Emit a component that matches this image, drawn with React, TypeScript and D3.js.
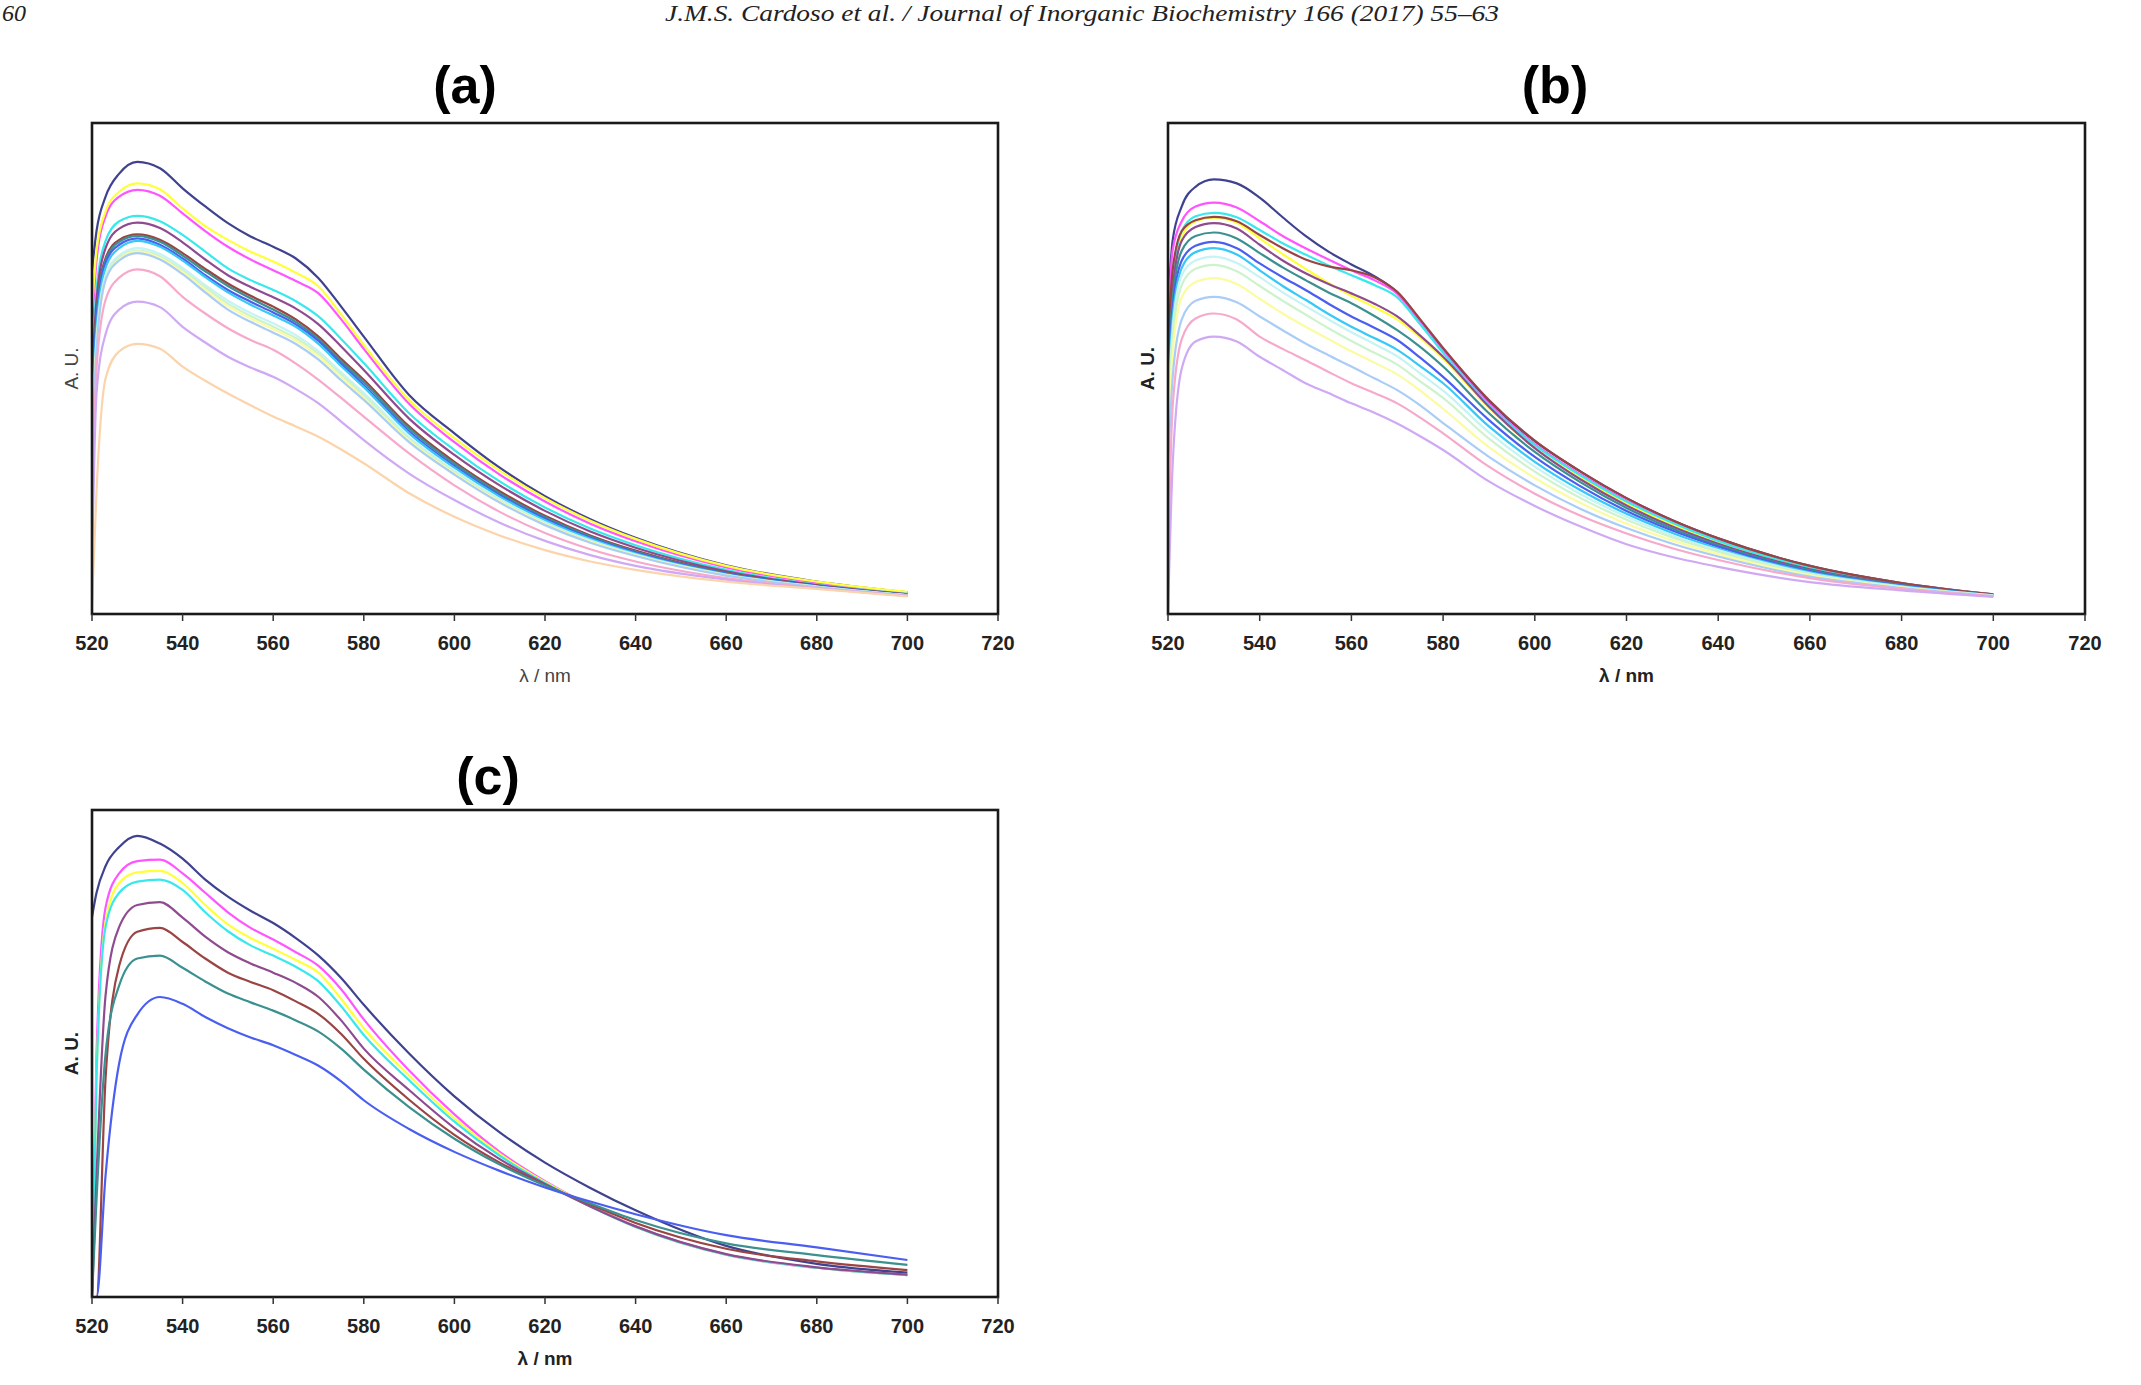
import React from "react";
import * as d3 from "d3";

// wavelength grid (nm) shared by every trace
const WAVELENGTHS = [520, 521, 523, 526, 530, 535, 540, 545, 550, 555, 560, 565, 570, 575, 580, 590, 600, 610, 620, 630, 640, 660, 680, 700];
const X_TICKS = [520, 540, 560, 580, 600, 620, 640, 660, 680, 700, 720];

// excel-like series colours (slightly softened like the scan)
const C_NAVY = "#3f428f";
const C_MAGENTA = "#ff55ff";
const C_YELLOW = "#ffff3a";
const C_CYAN = "#3ae8ec";
const C_VIOLET = "#8f4b8f";
const C_DARKRED = "#9a4444";
const C_TEAL = "#3c9090";
const C_BLUE = "#4a5ef0";
const C_SKY = "#38c8f8";
const C_LTTURQ = "#c6f3f3";
const C_LTGREEN = "#cdf3cd";
const C_LTYELLOW = "#fbfba2";
const C_PALEBLUE = "#a9cdf6";
const C_ROSE = "#f7a9cc";
const C_LAVENDER = "#cfa9f4";
const C_TAN = "#fcd4ac";

// panel (a)
const aNavy = [0.70, 0.78, 0.85, 0.897, 0.921, 0.908, 0.867, 0.830, 0.796, 0.769, 0.748, 0.724, 0.684, 0.626, 0.565, 0.446, 0.368, 0.298, 0.24, 0.193, 0.155, 0.099, 0.066, 0.044];
const aYellow = [0.62, 0.74, 0.82, 0.86, 0.877, 0.865, 0.826, 0.79, 0.762, 0.738, 0.718, 0.695, 0.667, 0.61, 0.548, 0.436, 0.358, 0.292, 0.236, 0.19, 0.153, 0.098, 0.066, 0.045];
const aMagenta = [0.58, 0.72, 0.81, 0.85, 0.864, 0.852, 0.816, 0.78, 0.748, 0.722, 0.70, 0.678, 0.653, 0.60, 0.54, 0.428, 0.35, 0.284, 0.229, 0.184, 0.148, 0.095, 0.063, 0.042];
const aCyan = [0.50, 0.66, 0.76, 0.80, 0.811, 0.80, 0.772, 0.738, 0.704, 0.68, 0.66, 0.637, 0.606, 0.56, 0.511, 0.409, 0.334, 0.27, 0.217, 0.174, 0.14, 0.09, 0.060, 0.041];
const aViolet = [0.48, 0.64, 0.745, 0.785, 0.797, 0.786, 0.757, 0.722, 0.69, 0.666, 0.645, 0.622, 0.59, 0.545, 0.497, 0.398, 0.324, 0.262, 0.21, 0.168, 0.135, 0.087, 0.059, 0.040];
const aDarkRed = [0.45, 0.62, 0.725, 0.762, 0.773, 0.762, 0.735, 0.703, 0.673, 0.648, 0.626, 0.60, 0.565, 0.52, 0.477, 0.382, 0.31, 0.25, 0.2, 0.16, 0.129, 0.084, 0.058, 0.040];
const aTeal = [0.44, 0.61, 0.72, 0.758, 0.770, 0.758, 0.73, 0.698, 0.668, 0.643, 0.62, 0.595, 0.56, 0.515, 0.472, 0.378, 0.306, 0.246, 0.197, 0.158, 0.127, 0.083, 0.057, 0.039];
const aBlue = [0.42, 0.60, 0.715, 0.752, 0.765, 0.752, 0.724, 0.69, 0.66, 0.636, 0.614, 0.59, 0.556, 0.51, 0.466, 0.372, 0.301, 0.242, 0.194, 0.155, 0.125, 0.082, 0.057, 0.039];
const aSky = [0.40, 0.58, 0.705, 0.745, 0.760, 0.748, 0.72, 0.686, 0.655, 0.63, 0.608, 0.585, 0.55, 0.505, 0.462, 0.368, 0.298, 0.239, 0.191, 0.153, 0.123, 0.081, 0.056, 0.039];
const aLtTurq = [0.38, 0.56, 0.69, 0.73, 0.745, 0.733, 0.705, 0.67, 0.638, 0.613, 0.592, 0.568, 0.535, 0.492, 0.45, 0.36, 0.292, 0.234, 0.187, 0.15, 0.121, 0.08, 0.056, 0.038];
const aLtGreen = [0.37, 0.55, 0.685, 0.725, 0.74, 0.728, 0.70, 0.665, 0.632, 0.607, 0.585, 0.562, 0.53, 0.487, 0.445, 0.356, 0.289, 0.231, 0.185, 0.148, 0.12, 0.079, 0.055, 0.038];
const aLtYellow = [0.36, 0.545, 0.68, 0.722, 0.738, 0.725, 0.696, 0.66, 0.627, 0.602, 0.58, 0.557, 0.525, 0.482, 0.44, 0.353, 0.286, 0.229, 0.183, 0.147, 0.119, 0.079, 0.055, 0.038];
const aPaleBlue = [0.35, 0.54, 0.68, 0.72, 0.735, 0.722, 0.692, 0.655, 0.62, 0.595, 0.573, 0.55, 0.518, 0.476, 0.436, 0.35, 0.284, 0.227, 0.181, 0.145, 0.118, 0.078, 0.055, 0.038];
const aRose = [0.2, 0.5, 0.64, 0.685, 0.702, 0.688, 0.646, 0.612, 0.582, 0.558, 0.538, 0.51, 0.477, 0.44, 0.402, 0.327, 0.262, 0.208, 0.165, 0.132, 0.107, 0.073, 0.053, 0.037];
const aLavender = [0.1, 0.45, 0.57, 0.62, 0.636, 0.625, 0.585, 0.553, 0.524, 0.502, 0.483, 0.458, 0.429, 0.392, 0.354, 0.286, 0.232, 0.186, 0.149, 0.12, 0.098, 0.07, 0.052, 0.037];
const aTan = [0.02, 0.25, 0.48, 0.535, 0.55, 0.54, 0.504, 0.475, 0.449, 0.425, 0.402, 0.382, 0.361, 0.335, 0.307, 0.246, 0.198, 0.16, 0.13, 0.107, 0.09, 0.066, 0.051, 0.036];

// panel (b)
const bNavy = [0.62, 0.76, 0.83, 0.87, 0.885, 0.877, 0.848, 0.808, 0.77, 0.738, 0.712, 0.688, 0.655, 0.597, 0.54, 0.434, 0.352, 0.29, 0.236, 0.191, 0.154, 0.098, 0.063, 0.04];
const bMagenta = [0.6, 0.74, 0.80, 0.83, 0.838, 0.828, 0.80, 0.77, 0.745, 0.722, 0.70, 0.68, 0.652, 0.594, 0.535, 0.428, 0.346, 0.284, 0.231, 0.187, 0.15, 0.095, 0.062, 0.039];
const bYellow = [0.52, 0.68, 0.77, 0.80, 0.807, 0.797, 0.765, 0.733, 0.703, 0.674, 0.648, 0.625, 0.60, 0.563, 0.52, 0.42, 0.338, 0.277, 0.225, 0.182, 0.146, 0.093, 0.061, 0.039];
const bCyan = [0.5, 0.68, 0.78, 0.81, 0.817, 0.808, 0.782, 0.755, 0.732, 0.71, 0.69, 0.67, 0.645, 0.59, 0.532, 0.425, 0.344, 0.282, 0.229, 0.186, 0.149, 0.095, 0.062, 0.039];
const bViolet = [0.5, 0.66, 0.76, 0.788, 0.796, 0.785, 0.752, 0.72, 0.694, 0.672, 0.653, 0.632, 0.606, 0.567, 0.524, 0.422, 0.338, 0.274, 0.221, 0.178, 0.143, 0.091, 0.06, 0.038];
const bDarkRed = [0.55, 0.7, 0.78, 0.802, 0.809, 0.80, 0.772, 0.745, 0.722, 0.708, 0.70, 0.686, 0.656, 0.6, 0.542, 0.436, 0.353, 0.29, 0.236, 0.191, 0.154, 0.098, 0.063, 0.04];
const bTeal = [0.48, 0.64, 0.74, 0.77, 0.777, 0.765, 0.735, 0.706, 0.68, 0.655, 0.633, 0.607, 0.578, 0.544, 0.504, 0.409, 0.33, 0.268, 0.216, 0.174, 0.14, 0.089, 0.059, 0.038];
const bBlue = [0.46, 0.62, 0.72, 0.75, 0.758, 0.745, 0.714, 0.686, 0.66, 0.632, 0.606, 0.583, 0.558, 0.522, 0.483, 0.395, 0.32, 0.26, 0.21, 0.17, 0.137, 0.087, 0.058, 0.038];
const bSky = [0.44, 0.6, 0.705, 0.737, 0.745, 0.732, 0.70, 0.668, 0.64, 0.611, 0.585, 0.562, 0.538, 0.505, 0.47, 0.382, 0.31, 0.252, 0.204, 0.165, 0.133, 0.085, 0.057, 0.038];
const bLtTurq = [0.42, 0.58, 0.69, 0.72, 0.728, 0.715, 0.686, 0.655, 0.627, 0.6, 0.574, 0.55, 0.525, 0.49, 0.455, 0.37, 0.30, 0.244, 0.198, 0.16, 0.13, 0.083, 0.056, 0.038];
const bLtGreen = [0.4, 0.56, 0.67, 0.703, 0.711, 0.698, 0.668, 0.638, 0.61, 0.582, 0.556, 0.532, 0.508, 0.474, 0.44, 0.357, 0.29, 0.236, 0.192, 0.156, 0.127, 0.081, 0.055, 0.037];
const bLtYellow = [0.37, 0.53, 0.645, 0.676, 0.684, 0.672, 0.642, 0.612, 0.585, 0.56, 0.535, 0.512, 0.488, 0.455, 0.418, 0.34, 0.277, 0.226, 0.184, 0.15, 0.122, 0.079, 0.054, 0.037];
const bPaleBlue = [0.3, 0.48, 0.6, 0.638, 0.646, 0.635, 0.606, 0.578, 0.551, 0.527, 0.504, 0.48, 0.456, 0.425, 0.389, 0.32, 0.262, 0.214, 0.175, 0.143, 0.117, 0.076, 0.053, 0.037];
const bRose = [0.1, 0.42, 0.56, 0.602, 0.612, 0.6, 0.565, 0.54, 0.517, 0.493, 0.47, 0.45, 0.429, 0.4, 0.368, 0.30, 0.245, 0.2, 0.164, 0.134, 0.11, 0.073, 0.051, 0.036];
const bLavender = [0.0, 0.3, 0.5, 0.555, 0.565, 0.555, 0.524, 0.497, 0.47, 0.45, 0.429, 0.41, 0.388, 0.362, 0.334, 0.27, 0.22, 0.178, 0.142, 0.116, 0.096, 0.065, 0.048, 0.035];

// panel (c)
const cNavy = [0.78, 0.83, 0.885, 0.924, 0.947, 0.931, 0.90, 0.857, 0.822, 0.793, 0.768, 0.737, 0.701, 0.655, 0.60, 0.50, 0.412, 0.338, 0.276, 0.224, 0.178, 0.105, 0.068, 0.05];
const cMagenta = [0.02, 0.5, 0.80, 0.87, 0.895, 0.898, 0.87, 0.83, 0.79, 0.758, 0.734, 0.708, 0.68, 0.632, 0.57, 0.465, 0.375, 0.298, 0.238, 0.188, 0.145, 0.087, 0.06, 0.045];
const cYellow = [0.0, 0.45, 0.77, 0.85, 0.872, 0.875, 0.85, 0.805, 0.765, 0.737, 0.715, 0.692, 0.666, 0.612, 0.552, 0.455, 0.367, 0.294, 0.236, 0.187, 0.144, 0.087, 0.06, 0.045];
const cCyan = [0.0, 0.45, 0.76, 0.83, 0.853, 0.857, 0.836, 0.79, 0.751, 0.722, 0.701, 0.678, 0.648, 0.597, 0.538, 0.445, 0.36, 0.29, 0.234, 0.186, 0.144, 0.087, 0.06, 0.045];
const cViolet = [0.0, 0.25, 0.62, 0.76, 0.805, 0.811, 0.779, 0.74, 0.708, 0.685, 0.666, 0.645, 0.616, 0.568, 0.51, 0.425, 0.347, 0.283, 0.232, 0.186, 0.145, 0.088, 0.061, 0.046];
const cDarkRed = [0.0, 0.0, 0.45, 0.68, 0.75, 0.758, 0.729, 0.695, 0.666, 0.647, 0.63, 0.607, 0.581, 0.54, 0.489, 0.405, 0.333, 0.276, 0.23, 0.19, 0.152, 0.099, 0.073, 0.055];
const cTeal = [0.0, 0.2, 0.5, 0.64, 0.695, 0.701, 0.676, 0.648, 0.623, 0.605, 0.588, 0.568, 0.545, 0.51, 0.467, 0.39, 0.325, 0.272, 0.229, 0.192, 0.158, 0.11, 0.086, 0.066];
const cBlue = [0.0, 0.0, 0.25, 0.48, 0.58, 0.616, 0.602, 0.575, 0.552, 0.533, 0.517, 0.497, 0.475, 0.443, 0.404, 0.345, 0.298, 0.259, 0.225, 0.196, 0.17, 0.127, 0.102, 0.076];

const SERIES_A = [aNavy, aMagenta, aYellow, aCyan, aViolet, aDarkRed, aTeal, aBlue, aSky, aLtTurq, aLtGreen, aLtYellow, aPaleBlue, aRose, aLavender, aTan];
const COLORS_A = [C_NAVY, C_MAGENTA, C_YELLOW, C_CYAN, C_VIOLET, C_DARKRED, C_TEAL, C_BLUE, C_SKY, C_LTTURQ, C_LTGREEN, C_LTYELLOW, C_PALEBLUE, C_ROSE, C_LAVENDER, C_TAN];
const SERIES_B = [bNavy, bMagenta, bYellow, bCyan, bViolet, bDarkRed, bTeal, bBlue, bSky, bLtTurq, bLtGreen, bLtYellow, bPaleBlue, bRose, bLavender];
const COLORS_B = [C_NAVY, C_MAGENTA, C_YELLOW, C_CYAN, C_VIOLET, C_DARKRED, C_TEAL, C_BLUE, C_SKY, C_LTTURQ, C_LTGREEN, C_LTYELLOW, C_PALEBLUE, C_ROSE, C_LAVENDER];
const SERIES_C = [cNavy, cMagenta, cYellow, cCyan, cViolet, cDarkRed, cTeal, cBlue];
const COLORS_C = [C_NAVY, C_MAGENTA, C_YELLOW, C_CYAN, C_VIOLET, C_DARKRED, C_TEAL, C_BLUE];

const FONT = "'Liberation Sans', Arial, sans-serif";

type PanelProps = {
  id: string;
  left: number;
  right: number;
  top: number;
  bottom: number;
  series: number[][];
  colors: string[];
  title: string;
  titleX: number;
  titleY: number;
  bold: boolean;
};

function Panel(p: PanelProps) {
  const x = d3.scaleLinear().domain([520, 720]).range([p.left, p.right]);
  const y = d3.scaleLinear().domain([0, 1]).range([p.bottom, p.top]);
  const line = d3
    .line<number>()
    .x((_, i) => x(WAVELENGTHS[i]))
    .y((d) => y(d))
    .curve(d3.curveMonotoneX);
  const midX = (p.left + p.right) / 2;
  const midY = (p.top + p.bottom) / 2;

  return (
    <g>
      <defs>
        <clipPath id={`clip-${p.id}`}>
          <rect x={p.left} y={p.top} width={p.right - p.left} height={p.bottom - p.top} />
        </clipPath>
      </defs>
      <text x={p.titleX} y={p.titleY} textAnchor="middle" fontFamily={FONT} fontWeight="bold" fontSize={52} fill="#000">
        {p.title}
      </text>
      <g clipPath={`url(#clip-${p.id})`}>
        {p.series.map((s, i) => (
          <path
            key={i}
            d={line(s) || ""}
            fill="none"
            stroke={p.colors[i]}
            strokeWidth={2.2}
            strokeLinejoin="round"
          />
        ))}
      </g>
      <rect
        x={p.left}
        y={p.top}
        width={p.right - p.left}
        height={p.bottom - p.top}
        fill="none"
        stroke="#1a1a1a"
        strokeWidth={2.6}
      />
      {X_TICKS.map((t) => (
        <g key={t}>
          <line x1={x(t)} x2={x(t)} y1={p.bottom} y2={p.bottom + 7} stroke="#333" strokeWidth={1.5} />
          <text
            x={x(t)}
            y={p.bottom + 36}
            textAnchor="middle"
            fontFamily={FONT}
            fontWeight="bold"
            fontSize={20}
            fill="#222"
          >
            {t}
          </text>
        </g>
      ))}
      <text
        x={midX}
        y={p.bottom + 68}
        textAnchor="middle"
        fontFamily={FONT}
        fontWeight={p.bold ? "bold" : "normal"}
        fontSize={19}
        fill={p.bold ? "#222" : "#444"}
      >
        λ / nm
      </text>
      <text
        transform={`translate(${p.left - 14},${midY}) rotate(-90)`}
        textAnchor="middle"
        fontFamily={FONT}
        fontWeight={p.bold ? "bold" : "normal"}
        fontSize={19}
        fill={p.bold ? "#222" : "#444"}
      >
        A. U.
      </text>
    </g>
  );
}

export default function App() {
  return (
    <svg
      width={2141}
      height={1385}
      style={{ position: "absolute", left: 0, top: 0, background: "#fff" }}
    >
      <rect x={0} y={0} width={2141} height={1385} fill="#fff" />
      <text x={2} y={21} fontFamily="'Liberation Serif', serif" fontStyle="italic" fontSize={24} fill="#222">
        60
      </text>
      <text
        x={665}
        y={21}
        fontFamily="'Liberation Serif', serif"
        fontStyle="italic"
        fontSize={24}
        fill="#222"
        textLength={834}
        lengthAdjust="spacingAndGlyphs"
      >
        J.M.S. Cardoso et al. / Journal of Inorganic Biochemistry 166 (2017) 55–63
      </text>
      <Panel id="a" left={92} right={998} top={123} bottom={614} series={SERIES_A} colors={COLORS_A} title="(a)" titleX={465} titleY={103} bold={false} />
      <Panel id="b" left={1168} right={2085} top={123} bottom={614} series={SERIES_B} colors={COLORS_B} title="(b)" titleX={1555} titleY={103} bold={true} />
      <Panel id="c" left={92} right={998} top={810} bottom={1297} series={SERIES_C} colors={COLORS_C} title="(c)" titleX={488} titleY={794} bold={true} />
    </svg>
  );
}
